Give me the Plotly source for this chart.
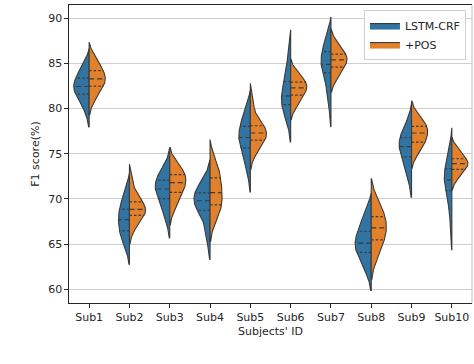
import numpy as np
import plotly.graph_objects as go

categories = ["Sub1", "Sub2", "Sub3", "Sub4", "Sub5", "Sub6", "Sub7", "Sub8", "Sub9", "Sub10"]
series_names = ["LSTM-CRF", "+POS"]
y_ticks = [60, 65, 70, 75, 80, 85, 90]

# Per-subject F1 scores (%) for each model
lstm_crf_scores = [
    [79.8, 81.0, 81.5, 81.9, 82.3, 82.6, 83.0, 83.5, 84.0, 84.8],
    [65.0, 65.6, 66.3, 67.0, 67.4, 68.0, 68.5, 69.0, 69.8, 70.6],
    [67.8, 69.0, 69.9, 70.4, 70.9, 71.3, 71.7, 72.2, 72.8, 73.3],
    [65.6, 67.8, 68.6, 69.2, 69.6, 70.0, 70.3, 70.8, 71.3, 72.0],
    [73.2, 74.6, 75.5, 76.1, 76.6, 77.0, 77.5, 78.2, 78.9, 79.6],
    [79.0, 79.6, 80.3, 80.9, 81.2, 81.6, 82.4, 83.2, 84.3, 86.0],
    [80.6, 82.6, 83.8, 84.4, 84.7, 85.1, 85.7, 86.5, 87.0, 87.5],
    [62.2, 63.2, 63.9, 64.6, 64.9, 65.3, 65.9, 66.6, 67.4, 68.3],
    [72.4, 73.6, 74.5, 75.1, 75.6, 76.0, 76.4, 76.9, 77.5, 78.3],
    [67.2, 69.8, 70.8, 71.3, 71.9, 72.3, 72.8, 73.5, 74.2, 75.0],
]
pos_scores = [
    [81.0, 81.9, 82.4, 82.8, 83.1, 83.5, 83.9, 84.3, 84.8, 85.6],
    [66.8, 67.7, 68.1, 68.4, 68.7, 69.0, 69.3, 69.8, 70.3, 72.0],
    [69.0, 70.0, 70.6, 71.1, 71.6, 72.0, 72.4, 72.8, 73.2, 73.8],
    [67.8, 68.6, 69.2, 69.8, 70.4, 71.0, 71.8, 72.5, 73.2, 74.0],
    [75.2, 76.0, 76.4, 76.8, 77.1, 77.5, 77.8, 78.2, 78.7, 80.8],
    [80.2, 80.9, 81.4, 81.8, 82.1, 82.5, 82.7, 83.0, 83.4, 84.0],
    [83.3, 84.0, 84.5, 84.9, 85.2, 85.6, 85.8, 86.1, 86.6, 87.3],
    [63.5, 64.6, 65.3, 66.0, 66.6, 67.0, 67.6, 68.2, 68.9, 69.8],
    [75.0, 75.8, 76.2, 76.6, 77.1, 77.5, 77.8, 78.1, 78.6, 79.2],
    [72.2, 72.9, 73.2, 73.5, 73.8, 74.0, 74.3, 74.5, 74.9, 75.6],
]

colors = ["#3274a1", "#e1812c"]
edge = "#3a3a3a"
HALF = 0.4


def kde(vals, cut=2.0, grid=200):
    v = np.asarray(vals, float)
    n = len(v)
    bw = v.std(ddof=1) * n ** (-0.2)
    y = np.linspace(v.min() - cut * bw, v.max() + cut * bw, grid)
    d = np.exp(-0.5 * ((y[:, None] - v[None, :]) / bw) ** 2).sum(1) / (n * bw * np.sqrt(2 * np.pi))
    return y, d


fig = go.Figure()
for i, cat in enumerate(categories):
    groups = [lstm_crf_scores[i], pos_scores[i]]
    kdes = [kde(g) for g in groups]
    scale = HALF / max(d.max() for _, d in kdes)
    for h, (vals, (ys, ds)) in enumerate(zip(groups, kdes)):
        sign = -1 if h == 0 else 1
        xs = np.concatenate([i + sign * ds * scale, [i, i]])
        yy = np.concatenate([ys, [ys[-1], ys[0]]])
        fig.add_trace(go.Scatter(
            x=xs, y=yy, mode="lines", fill="toself", fillcolor=colors[h],
            line=dict(color=edge, width=1.1), name=series_names[h],
            legendgroup=series_names[h], showlegend=(i == 0), hoverinfo="skip"))
        qs = np.percentile(vals, [25, 50, 75])
        for k, q in enumerate(qs):
            w = np.interp(q, ys, ds) * scale
            fig.add_trace(go.Scatter(
                x=[i, i + sign * w], y=[q, q], mode="lines",
                line=dict(color=edge, width=1.2, dash="5px,3px" if k == 1 else "2.5px,2px"),
                showlegend=False, hoverinfo="skip"))

font = "DejaVu Sans, Arial, sans-serif"
fig.update_layout(
    width=474, height=364,
    margin=dict(l=69, r=2, t=5, b=61),
    paper_bgcolor="white", plot_bgcolor="white",
    font=dict(family=font, size=11, color="#262626"),
    showlegend=True,
    legend=dict(x=0.985, y=0.983, xanchor="right", yanchor="top",
                bgcolor="rgba(255,255,255,0.9)", bordercolor="#d0d0d0", borderwidth=1,
                font=dict(size=11), itemwidth=30, tracegroupgap=0),
    xaxis=dict(range=[-0.5, 9.5], tickmode="array", tickvals=list(range(len(categories))),
               ticktext=categories, showgrid=False, zeroline=False,
               showline=True, linecolor="#262626", linewidth=1.3, mirror=True,
               ticks="outside", ticklen=3.5, tickcolor="#262626",
               title=dict(text="Subjects' ID", standoff=4, font=dict(size=11))),
    yaxis=dict(range=[58.48, 91.47], tickmode="array", tickvals=y_ticks,
               showgrid=True, gridcolor="#cfcfcf", gridwidth=1, zeroline=False,
               showline=True, linecolor="#262626", linewidth=1.3, mirror=False,
               ticks="outside", ticklen=3.5, tickcolor="#262626",
               title=dict(text="F1 score(%)", standoff=6, font=dict(size=11))),
    shapes=[dict(type="line", xref="paper", yref="paper", x0=1, x1=1, y0=0, y1=1,
                 line=dict(color="#cfcfcf", width=1.3))],
)
fig.write_html("out.html", config={"displayModeBar": False},
               post_script="document.body.style.margin='0';document.body.style.overflow='hidden';")
